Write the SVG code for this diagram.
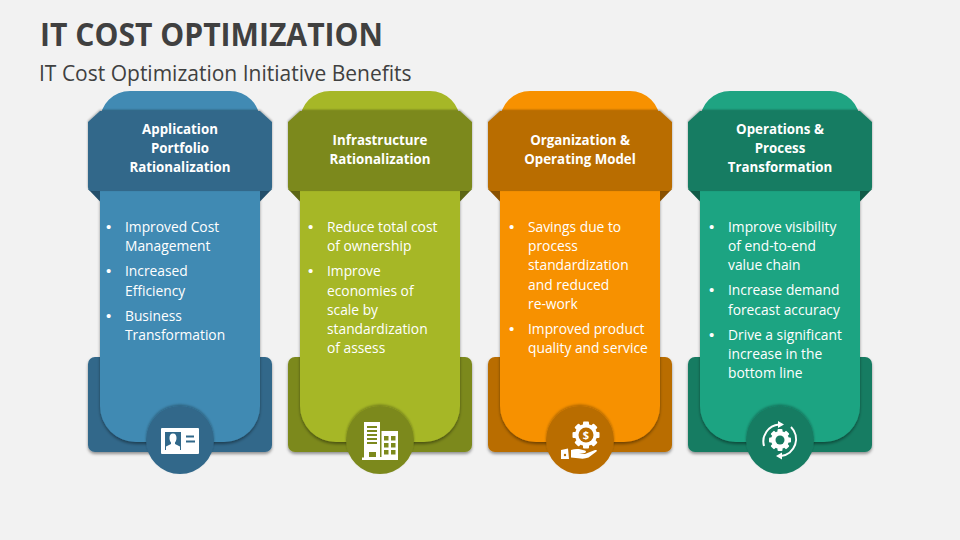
<svg xmlns="http://www.w3.org/2000/svg" width="960" height="540" viewBox="0 0 960 540">
<style>
text{font-family:"Open Sans","Liberation Sans",sans-serif}
.t{font-size:32px;font-weight:700;fill:#404040}
.s{font-size:21px;fill:#404040}
.h{font-size:13.300px;font-weight:700;fill:#fff;text-anchor:middle}
.b{font-size:13.800px;font-weight:500;fill:#fff}
.u{font-family:"Liberation Sans",sans-serif;font-size:15px}
.c1{--m:#418ab3;--d:#31688a;--f:#234f6b}
.c2{--m:#a6b727;--d:#7c891d;--f:#5c6615}
.c3{--m:#f79100;--d:#b96d00;--f:#8a5100}
.c4{--m:#1fa482;--d:#177b62;--f:#105b48}
.m{fill:var(--m)}.d{fill:var(--d)}.f{fill:var(--f)}
.w{fill:#fff}.ic{fill:var(--d)}
.ln{fill:none;stroke:#fff;stroke-width:2}
</style>
<defs>
<filter id="sh" x="-20%" y="-20%" width="140%" height="140%"><feDropShadow dx="0" dy="2" stdDeviation="1.500" flood-color="#000" flood-opacity=".4"/></filter>
<filter id="st" x="-20%" y="-20%" width="140%" height="140%"><feDropShadow dx="0" dy="-1" stdDeviation="1.200" flood-color="#000" flood-opacity=".35"/></filter>
<filter id="sc" x="-20%" y="-20%" width="140%" height="140%"><feDropShadow dx="0" dy="-1.500" stdDeviation="1.300" flood-color="#000" flood-opacity=".3"/></filter>
<g id="card">
<rect class="d" x="88" y="357" width="184" height="95" rx="7" filter="url(#sh)"/>
<path class="m" d="M100 191H260V406a36 36 0 0 1-36 36H136a36 36 0 0 1-36-36Z" filter="url(#sh)"/>
<path class="f" d="M88 189L100 201.500V189ZM272 189L260 201.500V189Z"/>
<path class="m" d="M100 113V121a30 30 0 0 1 30-30H230a30 30 0 0 1 30 30V113Z"/>
<path class="d" d="M100 111H260L272 122V187q0 4-4 4H92q-4 0-4-4V122Z" filter="url(#st)"/>
<circle class="d" cx="180" cy="440" r="34" filter="url(#sc)"/>
</g>
</defs>
<rect width="960" height="540" fill="#f2f2f2"/>
<text class="t" x="40" y="46" textLength="343" lengthAdjust="spacingAndGlyphs">IT COST OPTIMIZATION</text>
<text class="s" x="39" y="81">IT Cost Optimization Initiative Benefits</text>
<g id="connectors"/>

<g id="node-1" class="c1">
<use href="#card"/>
<text class="h" x="180" y="134">Application</text>
<text class="h" x="180" y="153">Portfolio</text>
<text class="h" x="180" y="172">Rationalization</text>
<text class="b"><tspan class="u" x="106" y="232">•</tspan><tspan x="125" y="232">Improved Cost</tspan><tspan x="125" y="251">Management</tspan><tspan class="u" x="106" y="276">•</tspan><tspan x="125" y="276">Increased</tspan><tspan x="125" y="296">Efficiency</tspan><tspan class="u" x="106" y="321">•</tspan><tspan x="125" y="321">Business</tspan><tspan x="125" y="340">Transformation</tspan></text>
<g id="icon-1">
<rect class="w" x="161" y="428" width="38" height="26" rx="1"/>
<rect class="ic" x="165" y="432" width="16" height="18"/>
<path class="w" d="M173 433.500c2.500 0 3.500 2 3.500 4.500 0 2-.8 3.500-1.500 4.500v1.500l5 2.500v3.500h-14v-3.500l5-2.500v-1.500c-.7-1-1.500-2.500-1.500-4.500 0-2.500 1-4.500 3.500-4.500Z"/>
<rect class="ic" x="186" y="435.500" width="8" height="2"/><rect class="ic" x="186" y="440.500" width="9" height="2"/>
</g>
</g>

<g id="node-2" class="c2" transform="translate(200 0)">
<use href="#card"/>
<text class="h" x="180" y="145">Infrastructure</text>
<text class="h" x="180" y="164">Rationalization</text>
<text class="b"><tspan class="u" x="108" y="232">•</tspan><tspan x="127" y="232">Reduce total cost</tspan><tspan x="127" y="251">of ownership</tspan><tspan class="u" x="108" y="276">•</tspan><tspan x="127" y="276">Improve</tspan><tspan x="127" y="296">economies of</tspan><tspan x="127" y="315">scale by</tspan><tspan x="127" y="334">standardization</tspan><tspan x="127" y="353">of assess</tspan></text>
<g id="icon-2">
<path class="w" d="M164 422H180V431H198V460H162V457.500H164Z"/>
<g class="ic"><rect x="167" y="426" width="10" height="2"/><rect x="167" y="430" width="10" height="2"/><rect x="167" y="434" width="10" height="2"/><rect x="167" y="438" width="10" height="2"/><rect x="167" y="442" width="10" height="2"/><rect x="169" y="452" width="7" height="5"/>
<rect x="184" y="436" width="4.500" height="4.500"/><rect x="191" y="436" width="4.500" height="4.500"/><rect x="184" y="443" width="4.500" height="4.500"/><rect x="191" y="443" width="4.500" height="4.500"/><rect x="184" y="450" width="4.500" height="4.500"/><rect x="191" y="450" width="4.500" height="4.500"/>
<rect x="180" y="431" width="1.500" height="26"/></g>
</g>
</g>

<g id="node-3" class="c3" transform="translate(400 0)">
<use href="#card"/>
<text class="h" x="180" y="145">Organization &amp;</text>
<text class="h" x="180" y="164">Operating Model</text>
<text class="b"><tspan class="u" x="109" y="232">•</tspan><tspan x="128" y="232">Savings due to</tspan><tspan x="128" y="251">process</tspan><tspan x="128" y="270">standardization</tspan><tspan x="128" y="290">and reduced</tspan><tspan x="128" y="309">re-work</tspan><tspan class="u" x="109" y="334">•</tspan><tspan x="128" y="334">Improved product</tspan><tspan x="128" y="353">quality and service</tspan></text>
<g id="icon-3">
<circle class="w" cx="186" cy="435" r="11"/>
<g class="w"><rect x="183" y="421.500" width="6" height="27" rx="1"/><rect x="183" y="421.500" width="6" height="27" rx="1" transform="rotate(45 186 435)"/><rect x="183" y="421.500" width="6" height="27" rx="1" transform="rotate(90 186 435)"/><rect x="183" y="421.500" width="6" height="27" rx="1" transform="rotate(135 186 435)"/></g>
<circle class="ic" cx="186" cy="435" r="7.500"/>
<text x="186" y="439" font-size="11" font-weight="700" fill="#fff" text-anchor="middle">$</text>
<path class="w" d="M161 450l7-1.500 1 10.500H161Z"/>
<path class="w" d="M171 450q4-1.500 8-1l6 1.500q2 1 0 2.500l-6 .5 6 .5 10-4q3-.5 1.500 1.500l-8 6q-4 1.500-8 1l-9.500-1Z"/>
<circle class="ic" cx="165" cy="455" r="1.200"/>
</g>
</g>

<g id="node-4" class="c4" transform="translate(600 0)">
<use href="#card"/>
<text class="h" x="180" y="134">Operations &amp;</text>
<text class="h" x="180" y="153">Process</text>
<text class="h" x="180" y="172">Transformation</text>
<text class="b"><tspan class="u" x="109" y="232">•</tspan><tspan x="128" y="232">Improve visibility</tspan><tspan x="128" y="251">of end-to-end</tspan><tspan x="128" y="270">value chain</tspan><tspan class="u" x="109" y="295">•</tspan><tspan x="128" y="295">Increase demand</tspan><tspan x="128" y="315">forecast accuracy</tspan><tspan class="u" x="109" y="340">•</tspan><tspan x="128" y="340">Drive a significant</tspan><tspan x="128" y="359">increase in the</tspan><tspan x="128" y="378">bottom line</tspan></text>
<g id="icon-4">
<path class="ln" d="M164 446A17 17 0 0 1 179 424.500"/>
<path class="w" d="M178 421l6 3.500-6 3.500Z"/>
<path class="ln" d="M191 427A17 17 0 0 1 181 456"/>
<path class="w" d="M182 452.500l-6 3.500 6 3.500Z"/>
<circle class="w" cx="180" cy="440" r="9"/>
<g class="w"><rect x="177.500" y="429" width="5" height="22" rx="1"/><rect x="177.500" y="429" width="5" height="22" rx="1" transform="rotate(45 180 440)"/><rect x="177.500" y="429" width="5" height="22" rx="1" transform="rotate(90 180 440)"/><rect x="177.500" y="429" width="5" height="22" rx="1" transform="rotate(135 180 440)"/></g>
<circle class="ic" cx="180" cy="440" r="4.500"/>
</g>
</g>
</svg>
